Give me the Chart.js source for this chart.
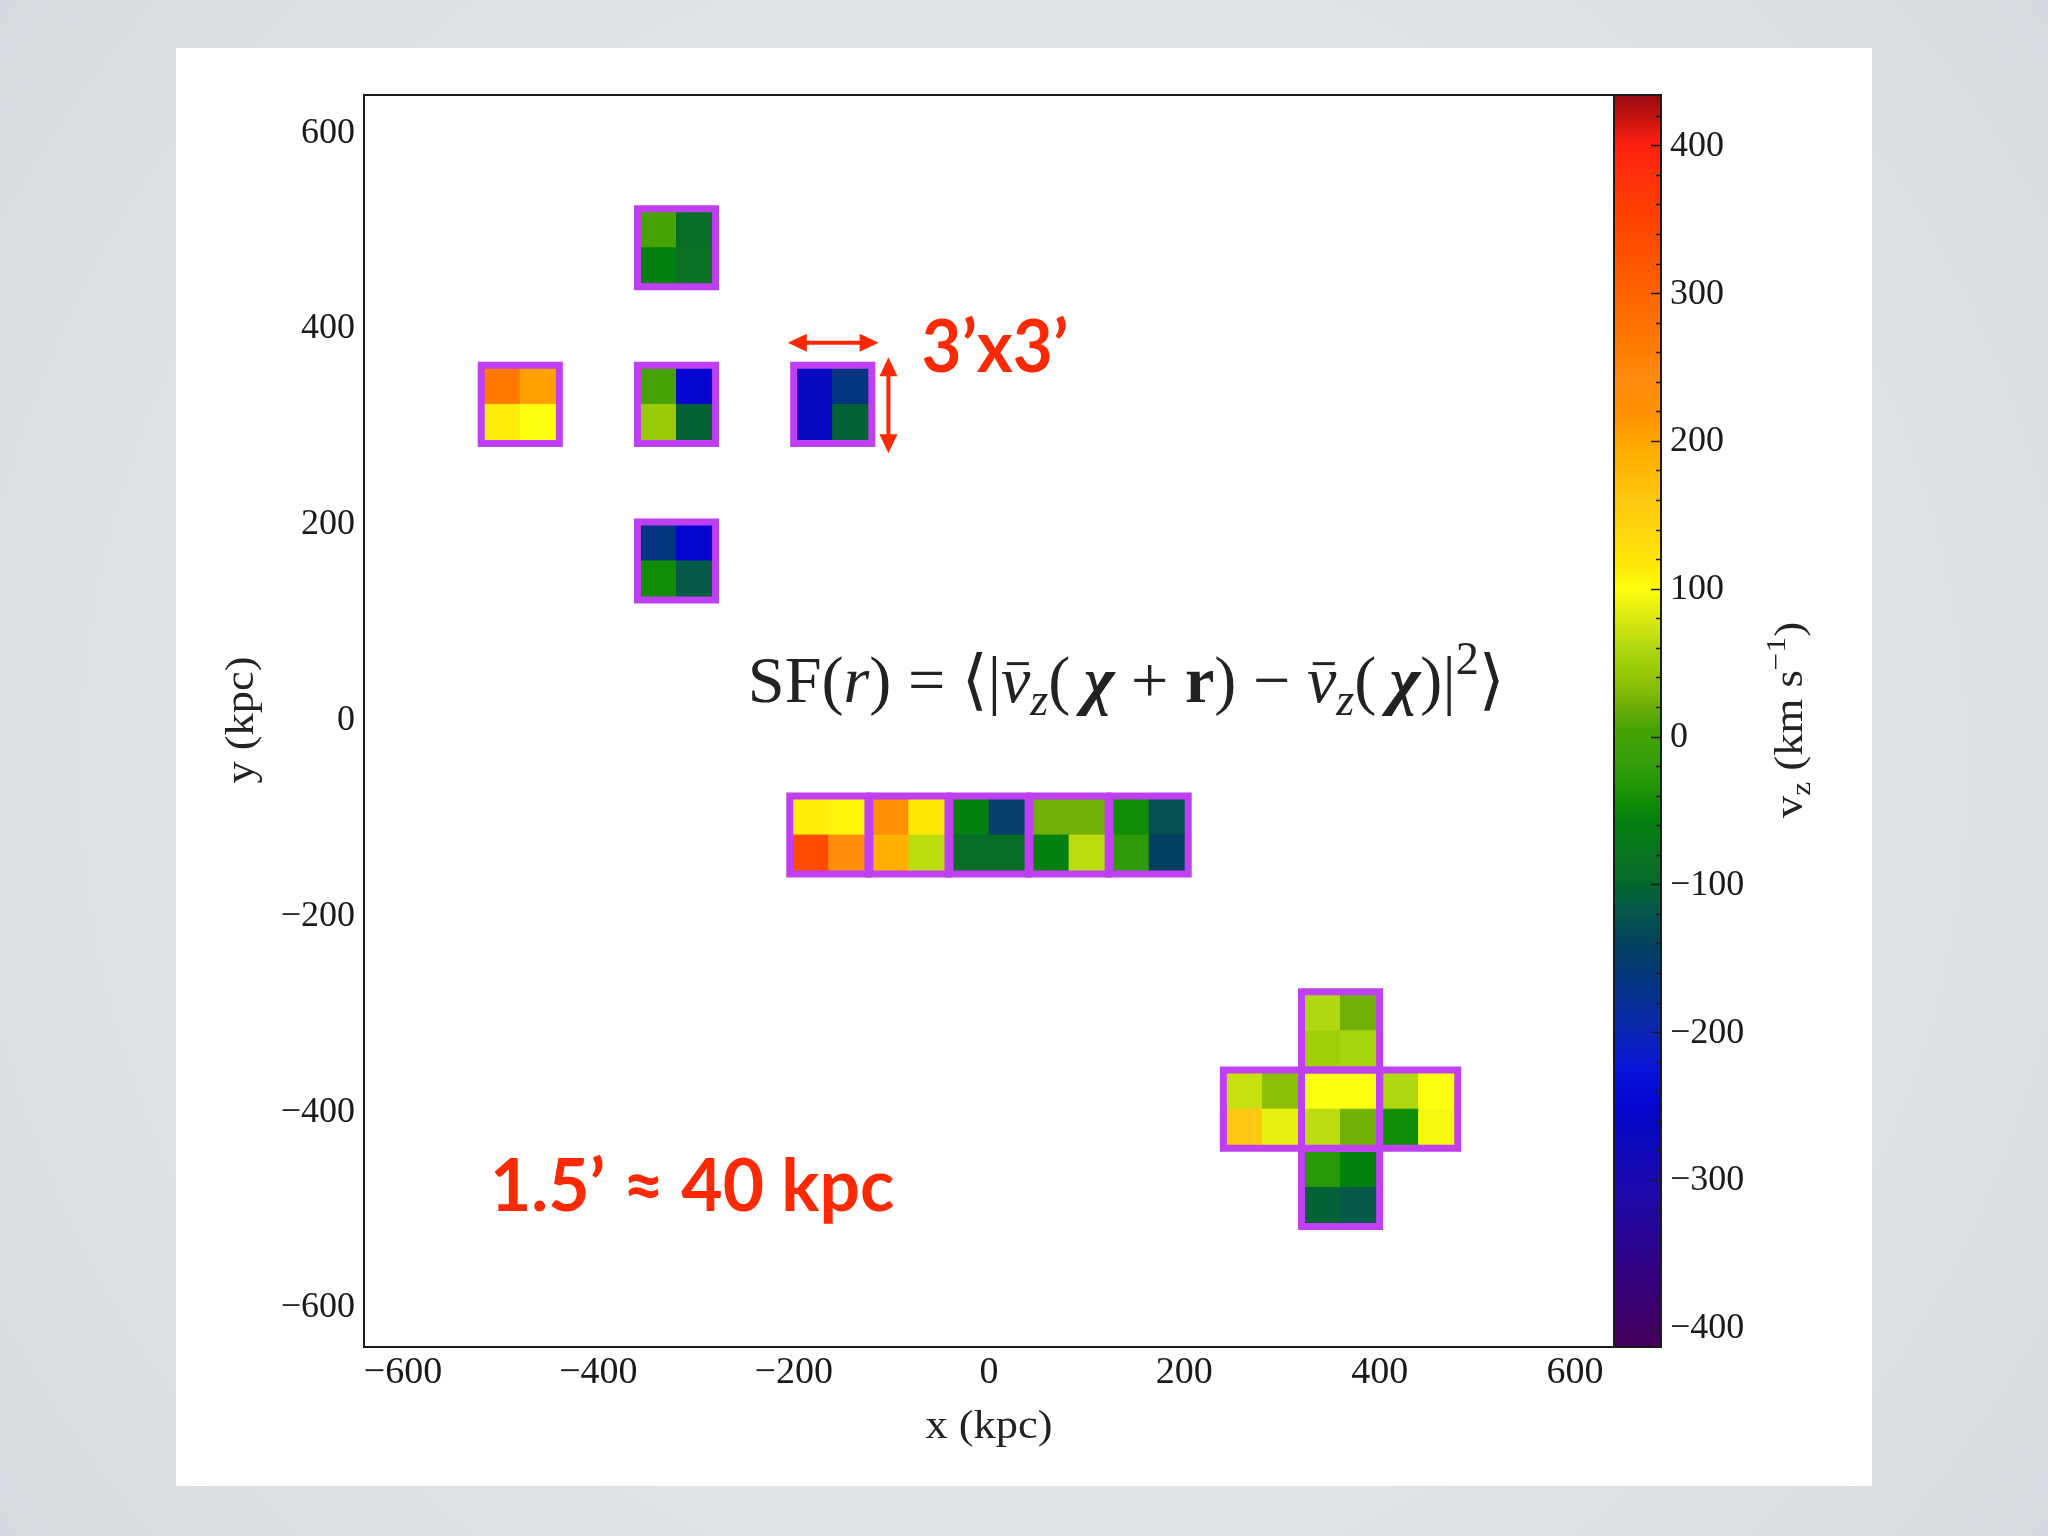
<!DOCTYPE html>
<html><head><meta charset="utf-8">
<script src="https://cdn.jsdelivr.net/npm/chart.js@4.4.1/dist/chart.umd.min.js"></script>
<style>html,body{margin:0;padding:0;background:#dfe2e6;overflow:hidden}canvas{display:block}</style>
</head><body>
<canvas id="c" width="2048" height="1536" style="width:2048px;height:1536px"></canvas>
<script>
// ---------------- DATA ----------------
// centres (kpc) of the 3'x3' boxes, each split into 2x2 cells of 1.5' (40 kpc)
const squareX = [-320, -480, -320, -160, -320, -164, -82,   0,  82, 164,  360,  280,  360,  440,  360];
const squareY = [ 480,  320,  320,  320,  160, -120, -120, -120, -120, -120, -320, -400, -400, -400, -480];
// v_z (km/s) of the four cells in each box
const vTopLeft     = [   5,  270,    5, -265, -165,  112,  225,  -57,   22,  -45,   60,   70,  100,   60,  -30];
const vTopRight    = [ -95,  205, -250, -165, -250,  106,  115, -150,   22, -125,   22,   35,  100,  100,  -57];
const vBottomLeft  = [ -57,  112,   45, -265,  -45,  340,  190,  -95,  -57,  -25,   50,  160,   65,  -45, -105];
const vBottomRight = [ -85,  100, -105, -105, -115,  235,   65,  -95,   65, -140,   55,   88,   22,   95, -115];
const cellSize = 40;            // kpc
const xRange = [-640, 640];
const yRange = [-643, 636];
const vRange = [-413, 434];     // colour bar limits (km/s)
const xTicks = [-600, -400, -200, 0, 200, 400, 600];
const yTicks = [-600, -400, -200, 0, 200, 400, 600];
const cbTicks = [-400, -300, -200, -100, 0, 100, 200, 300, 400];

// colour map (value -> rgb)
const cmapStops = [
  [-413, [70, 0, 90]], [-370, [52, 0, 122]], [-310, [30, 10, 170]], [-265, [8, 8, 192]],
  [-250, [5, 5, 208]], [-225, [8, 20, 215]], [-195, [10, 40, 170]], [-165, [4, 53, 128]],
  [-150, [5, 63, 106]], [-140, [4, 64, 95]], [-125, [4, 80, 80]], [-115, [6, 90, 72]],
  [-105, [4, 98, 54]], [-95, [6, 108, 40]], [-85, [10, 112, 36]], [-57, [4, 128, 16]],
  [-45, [16, 140, 6]], [-30, [40, 152, 8]], [-10, [58, 160, 8]], [5, [70, 162, 5]],
  [22, [112, 176, 8]], [35, [140, 192, 8]], [50, [160, 208, 8]], [60, [176, 216, 16]],
  [70, [200, 224, 16]], [88, [232, 240, 16]], [100, [255, 255, 16]], [115, [255, 232, 8]],
  [160, [255, 200, 16]], [190, [255, 176, 0]], [220, [255, 144, 0]], [240, [255, 140, 16]],
  [270, [255, 120, 0]], [340, [255, 74, 0]], [400, [255, 32, 16]], [434, [150, 10, 16]]
];
function cmap(v) {
  if (v <= cmapStops[0][0]) return cmapStops[0][1];
  for (let i = 1; i < cmapStops.length; i++) {
    if (v <= cmapStops[i][0]) {
      const [v0, c0] = cmapStops[i - 1], [v1, c1] = cmapStops[i];
      const t = (v - v0) / (v1 - v0);
      return c0.map((a, k) => Math.round(a + (c1[k] - a) * t));
    }
  }
  return cmapStops[cmapStops.length - 1][1];
}
const rgb = c => `rgb(${c[0]},${c[1]},${c[2]})`;

// build cell and box points
const cells = [], boxes = [];
squareX.forEach((cx, i) => {
  const cy = squareY[i], h = cellSize / 2;
  boxes.push({x: cx, y: cy});
  cells.push({x: cx - h, y: cy + h, v: vTopLeft[i]});
  cells.push({x: cx + h, y: cy + h, v: vTopRight[i]});
  cells.push({x: cx - h, y: cy - h, v: vBottomLeft[i]});
  cells.push({x: cx + h, y: cy - h, v: vBottomRight[i]});
});

// annotation anchors (data units)
const notes = {
  sizeText: {text: '3\u2019x3\u2019', x0: -69, x1: 81, y: 353},
  scaleText: {text: '1.5\u2019 \u2248 40 kpc', x0: -511, x1: -97, y: -504},
  arrowH: [-206, 383, -113, 383],
  arrowV: [-103, 368, -103, 270],
  formula: {x0: -247, x1: 528, y: 16}
};

// ---------------- STYLE ----------------
const RED = '#fc2a04';
const PURPLE = '#bf40f2';
const SERIF = '"Liberation Serif","DejaVu Serif","DejaVu Sans",serif';
const CB_W = 47;
const fmt = v => (v < 0 ? '\u2212' + Math.abs(v) : String(v));
const pxPer = (chart, d) => Math.abs(chart.scales.x.getPixelForValue(d) - chart.scales.x.getPixelForValue(0));

function textFit(c, text, font, x, y, targetW, align) {
  c.save();
  c.font = font;
  const w = c.measureText(text).width;
  const s = targetW ? targetW / w : 1;
  c.translate(x, y);
  c.scale(s, 1);
  c.textAlign = align || 'left';
  c.fillText(text, 0, 0);
  c.restore();
}

function arrow(c, x1, y1, x2, y2) {
  const head = 19, hw = 9, L = Math.hypot(x2 - x1, y2 - y1);
  c.save();
  c.translate(x1, y1);
  c.rotate(Math.atan2(y2 - y1, x2 - x1));
  c.lineWidth = 4;
  c.beginPath(); c.moveTo(head * 0.7, 0); c.lineTo(L - head * 0.7, 0); c.stroke();
  c.beginPath(); c.moveTo(0, 0); c.lineTo(head, -hw); c.lineTo(head, hw); c.closePath(); c.fill();
  c.beginPath(); c.moveTo(L, 0); c.lineTo(L - head, -hw); c.lineTo(L - head, hw); c.closePath(); c.fill();
  c.restore();
}

// draw a run of styled segments; returns width (measure only when draw=false)
function runSegs(c, segs, size, draw) {
  let x = 0;
  const fonts = {
    R: `${size}px ${SERIF}`, I: `italic ${size}px ${SERIF}`, B: `bold ${size}px ${SERIF}`,
    BI: `bold italic ${size}px ${SERIF}`, SI: `italic ${Math.round(size * 0.7)}px ${SERIF}`,
    SR: `${Math.round(size * 0.7)}px ${SERIF}`
  };
  segs.forEach(([t, f, mode]) => {
    c.font = fonts[f];
    const w = c.measureText(t).width;
    let dy = 0;
    if (mode === 'sub') dy = size * 0.2;
    if (mode === 'sup') dy = -size * 0.42;
    if (draw) {
      c.fillText(t, x, dy);
      if (mode === 'bar') {
        c.save(); c.lineWidth = size * 0.045;
        c.beginPath(); c.moveTo(x + w * 0.2, -size * 0.58); c.lineTo(x + w * 0.95, -size * 0.58); c.stroke();
        c.restore();
      }
    }
    x += w;
  });
  return x;
}

const bgPlugin = {
  id: 'bg',
  beforeDraw(chart) {
    const c = chart.ctx, W = chart.width, H = chart.height;
    const g = c.createRadialGradient(W * 0.5, H * 0.5, 100, W * 0.5, H * 0.5, W * 0.72);
    g.addColorStop(0, '#eff0f2');
    g.addColorStop(1, '#d3d7dd');
    c.save();
    c.fillStyle = g; c.fillRect(0, 0, W, H);
    c.fillStyle = '#ffffff'; c.fillRect(176, 48, 1696, 1438);
    c.restore();
  }
};

const decorPlugin = {
  id: 'decor',
  afterDatasetsDraw(chart) {
    const c = chart.ctx, a = chart.chartArea, sx = chart.scales.x, sy = chart.scales.y, cb = chart.scales.cb;
    c.save();
    // plot frame
    c.strokeStyle = '#1a1a1a'; c.lineWidth = 2;
    c.strokeRect(a.left, a.top, a.right - a.left, a.bottom - a.top);

    // colour bar
    const x0 = a.right, x1 = a.right + CB_W;
    const pTop = cb.getPixelForValue(vRange[1]), pBot = cb.getPixelForValue(vRange[0]);
    const g = c.createLinearGradient(0, pTop, 0, pBot);
    cmapStops.forEach(([v, col]) => {
      const f = (cb.getPixelForValue(v) - pTop) / (pBot - pTop);
      g.addColorStop(Math.min(1, Math.max(0, f)), rgb(col));
    });
    c.fillStyle = g;
    c.fillRect(x0, pTop, CB_W, pBot - pTop);
    c.lineWidth = 1.5; c.strokeStyle = '#1a1a1a';
    for (let v = -400; v <= 420; v += 20) {
      const p = Math.round(cb.getPixelForValue(v)) + 0.5;
      const len = v % 100 === 0 ? 10 : 5;
      c.beginPath(); c.moveTo(x1 - len, p); c.lineTo(x1, p); c.stroke();
    }
    c.lineWidth = 2;
    c.strokeRect(x0, pTop, CB_W, pBot - pTop);

    // arrows
    c.fillStyle = RED; c.strokeStyle = RED;
    const ah = notes.arrowH, av = notes.arrowV;
    arrow(c, sx.getPixelForValue(ah[0]), sy.getPixelForValue(ah[1]), sx.getPixelForValue(ah[2]), sy.getPixelForValue(ah[3]));
    arrow(c, sx.getPixelForValue(av[0]), sy.getPixelForValue(av[1]), sx.getPixelForValue(av[2]), sy.getPixelForValue(av[3]));

    // red annotations
    c.textBaseline = 'alphabetic';
    [notes.sizeText, notes.scaleText].forEach(n => {
      const px0 = sx.getPixelForValue(n.x0), px1 = sx.getPixelForValue(n.x1);
      textFit(c, n.text, 'bold 72px Lato, "Open Sans", sans-serif', px0, sy.getPixelForValue(n.y), px1 - px0);
    });

    // formula
    c.fillStyle = '#222'; c.strokeStyle = '#222';
    const segs = [
      ['SF', 'R'], ['(', 'R'], ['r', 'I'], [')', 'R'], [' = ', 'R'], ['\u27E8', 'R'], ['|', 'R'],
      ['v', 'I', 'bar'], ['z', 'SI', 'sub'], ['(', 'R'], ['\u2009', 'R'], ['\u03C7', 'BI'], [' + ', 'R'], ['r', 'B'], [')', 'R'],
      [' \u2212 ', 'R'], ['v', 'I', 'bar'], ['z', 'SI', 'sub'], ['(', 'R'], ['\u2009', 'R'], ['\u03C7', 'BI'], [')', 'R'], ['|', 'R'],
      ['2', 'SR', 'sup'], ['\u27E9', 'R']
    ];
    const fsize = 66;
    const fw = runSegs(c, segs, fsize, false);
    const fx0 = sx.getPixelForValue(notes.formula.x0), fx1 = sx.getPixelForValue(notes.formula.x1);
    c.save();
    c.translate(fx0, sy.getPixelForValue(notes.formula.y));
    c.scale((fx1 - fx0) / fw, 1);
    c.textAlign = 'left';
    runSegs(c, segs, fsize, true);
    c.restore();

    // axis titles
    c.fillStyle = '#222';
    c.textBaseline = 'middle';
    const midY = (a.top + a.bottom) / 2, midX = (a.left + a.right) / 2;
    textFit(c, 'x (kpc)', `40px ${SERIF}`, midX, a.bottom + 80, 127, 'center');
    c.save();
    c.translate(a.left - 122, midY - 1);
    c.rotate(-Math.PI / 2);
    textFit(c, 'y (kpc)', `40px ${SERIF}`, 0, 0, 127, 'center');
    c.restore();
    // colour bar label v_z (km s^-1)
    c.save();
    c.translate(a.right + 175, midY - 1);
    c.rotate(-Math.PI / 2);
    c.textBaseline = 'alphabetic';
    const lsegs = [['v', 'R'], ['z', 'SR', 'sub'], [' (km s', 'R'], ['\u22121', 'SR', 'sup'], [')', 'R']];
    const lw = runSegs(c, lsegs, 40, false);
    const ls = 196 / lw;
    c.scale(ls, 1);
    c.translate(-lw / 2, 13);
    runSegs(c, lsegs, 40, true);
    c.restore();

    c.restore();
  }
};

const tickFont = size => ({family: SERIF, size: size});

new Chart(document.getElementById('c'), {
  type: 'scatter',
  data: {
    datasets: [
      {
        label: 'cells', data: cells, order: 2,
        pointStyle: 'rect',
        pointRadius: ctx => pxPer(ctx.chart, cellSize / 2) * Math.SQRT2,
        pointHoverRadius: ctx => pxPer(ctx.chart, cellSize / 2) * Math.SQRT2,
        pointBackgroundColor: ctx => rgb(cmap(ctx.raw.v)),
        pointBorderColor: ctx => rgb(cmap(ctx.raw.v)),
        pointBorderWidth: 1
      },
      {
        label: 'boxes', data: boxes, order: 1,
        pointStyle: 'rect',
        pointRadius: ctx => pxPer(ctx.chart, cellSize) * Math.SQRT2,
        pointHoverRadius: ctx => pxPer(ctx.chart, cellSize) * Math.SQRT2,
        pointBackgroundColor: 'rgba(0,0,0,0)',
        pointBorderColor: PURPLE,
        pointBorderWidth: 7
      }
    ]
  },
  options: {
    responsive: false, animation: false, devicePixelRatio: 1, events: [],
    layout: {padding: {left: 0, right: 134, top: 95, bottom: 39}},
    plugins: {legend: {display: false}, tooltip: {enabled: false}},
    scales: {
      x: {
        type: 'linear', position: 'bottom', min: xRange[0], max: xRange[1],
        afterBuildTicks: s => { s.ticks = xTicks.map(v => ({value: v})); },
        afterFit: s => { s.height = 150; },
        grid: {display: false, drawTicks: false}, border: {display: false},
        ticks: {padding: 3, color: '#1a1a1a', font: tickFont(38), autoSkip: false, maxRotation: 0, callback: fmt}
      },
      y: {
        type: 'linear', position: 'left', min: yRange[0], max: yRange[1],
        afterBuildTicks: s => { s.ticks = yTicks.map(v => ({value: v})); },
        afterFit: s => { s.width = 364; },
        grid: {display: false, drawTicks: false}, border: {display: false},
        ticks: {padding: 9, labelOffset: 3, color: '#1a1a1a', font: tickFont(36), autoSkip: false, callback: fmt}
      },
      cb: {
        type: 'linear', axis: 'y', position: 'right', min: vRange[0], max: vRange[1],
        afterBuildTicks: s => { s.ticks = cbTicks.map(v => ({value: v})); },
        afterFit: s => { s.width = 300; },
        grid: {display: false, drawTicks: false}, border: {display: false},
        ticks: {padding: 56, labelOffset: 1, color: '#1a1a1a', font: tickFont(36), autoSkip: false, callback: fmt}
      }
    }
  },
  plugins: [bgPlugin, decorPlugin]
});
</script>
</body></html>
